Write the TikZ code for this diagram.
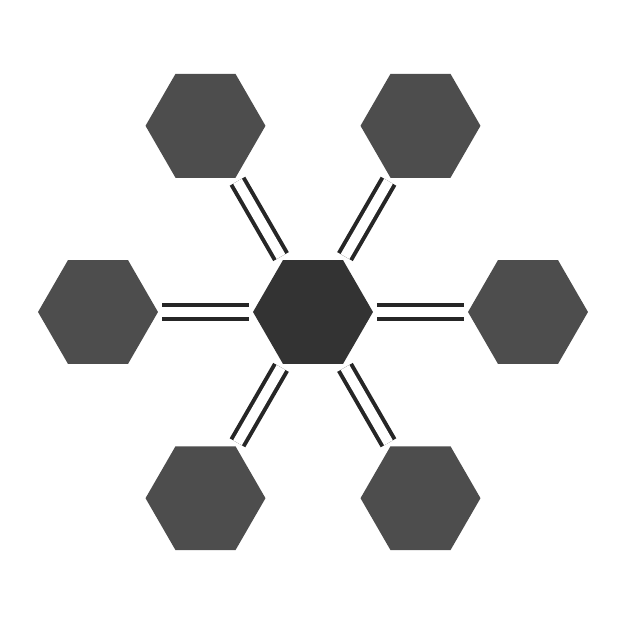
\documentclass[tikz,border=0pt]{standalone}
\usepackage{tikz}
\usetikzlibrary{shapes.geometric, positioning}
\definecolor{hubgray}{HTML}{333333}
\definecolor{leafgray}{HTML}{4D4D4D}
\definecolor{linkgray}{HTML}{262626}

\begin{document}
\begin{tikzpicture}[
		x=0.02cm, y=0.02cm,
		hexa/.style={regular polygon, regular polygon sides=6, minimum size=2.4cm, inner sep=0pt, outer sep=0pt},
		hub/.style={hexa, fill=hubgray},
		leaf/.style={hexa, fill=leafgray},
		link/.style={draw=linkgray, double=white, line width=0.08cm, double distance=0.2cm, shorten <=0.08cm, shorten >=0.08cm}
		]
		\useasboundingbox (-313,-314) rectangle (313,312);
		
		% Nodes
		\node[hub] (hub) at (0,0) {};
		\node[leaf] (upleft) at (-107.5,186.2) {};
		\node[leaf] (upright) at (107.5,186.2) {};
		\node[leaf] (left) at (-215,0) {};
		\node[leaf] (right) at (215,0) {};
		\node[leaf] (downleft) at (-107.5,-186.2) {};
		\node[leaf] (downright) at (107.5,-186.2) {};
		
		% Links
		\draw[link] (hub) -- (upleft);
		\draw[link] (hub) -- (upright);
		\draw[link] (hub) -- (left);
		\draw[link] (hub) -- (right);
		\draw[link] (hub) -- (downleft);
		\draw[link] (hub) -- (downright);
	\end{tikzpicture}
\end{document}
